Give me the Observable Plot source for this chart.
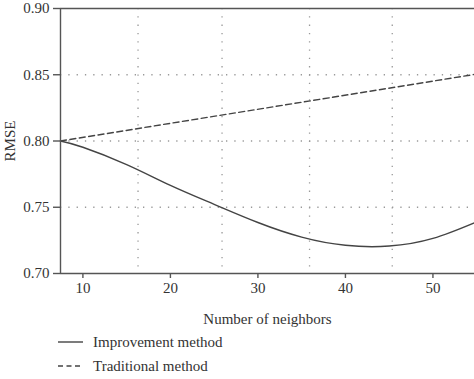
<!DOCTYPE html>
<html>
<head>
<meta charset="utf-8">
<script src="https://cdn.jsdelivr.net/npm/d3@7"></script>
<script src="https://cdn.jsdelivr.net/npm/@observablehq/plot@0.6"></script>
<style>
  body { margin: 0; background: #fff; font-family: "Liberation Serif", "DejaVu Serif", serif; }
  #legend { padding-left: 58px; font-size: 15px; color: #333; }
  .row { height: 24px; display: flex; align-items: center; }
  .row svg { margin-right: 10px; }
</style>
</head>
<body>
<div id="chart"></div>
<div id="legend"></div>
<script>
const neighbors = [7.44, 10, 15, 20, 25, 30, 35, 40, 45, 50, 55];
const improvement = [0.800, 0.7953, 0.7822, 0.7665, 0.7522, 0.7385, 0.7275, 0.7213, 0.7207, 0.7265, 0.739];
const tradNeighbors = [7.44, 55];
const traditional = [0.800, 0.8505];
const xTicks = [10, 20, 30, 40, 50];
const yTicks = [0.70, 0.75, 0.80, 0.85, 0.90];
const xGrid = [16.3, 25.9, 35.9, 45.35];
const yGrid = [0.75, 0.80, 0.85];
const seriesNames = ["Improvement method", "Traditional method"];

const impData = neighbors.map((x, i) => ({x, y: improvement[i]}));
const tradData = tradNeighbors.map((x, i) => ({x, y: traditional[i]}));

const ink = "#555";
const plot = Plot.plot({
  width: 474,
  height: 330,
  marginLeft: 60,
  marginRight: 0,
  marginTop: 8,
  marginBottom: 57,
  style: {fontFamily: "'Liberation Serif', serif", fontSize: "15px", color: "#333", background: "#fff"},
  x: {domain: [7.44, 54.75], label: null},
  y: {domain: [0.70, 0.90], label: null},
  marks: [
    Plot.ruleX(xGrid, {stroke: "#999", strokeWidth: 1.3, strokeDasharray: "1.3,7"}),
    Plot.ruleY(yGrid, {stroke: "#999", strokeWidth: 1.3, strokeDasharray: "1.3,7"}),
    Plot.line(tradData, {x: "x", y: "y", stroke: "#444", strokeWidth: 1.4, strokeDasharray: "6,3.5"}),
    Plot.line(impData, {x: "x", y: "y", stroke: "#444", strokeWidth: 1.4, curve: "natural"}),
    Plot.ruleY([0.90], {stroke: ink, strokeWidth: 1.4}),
    Plot.ruleY([0.70], {stroke: ink, strokeWidth: 1.4}),
    Plot.ruleX([7.44], {stroke: ink, strokeWidth: 1.4}),
    Plot.axisX({ticks: xTicks, tickSize: 5, tickPadding: 4, stroke: ink, strokeWidth: 1.4,
      label: "Number of neighbors", labelAnchor: "center", labelArrow: "none", labelOffset: 50, fontSize: 15}),
    Plot.axisY({ticks: yTicks, tickFormat: d3.format(".2f"), tickSize: 7, tickPadding: 4, stroke: ink, strokeWidth: 1.4,
      label: "RMSE", labelAnchor: "center", labelOffset: 56, labelArrow: "none", fontSize: 15})
  ]
});
document.getElementById("chart").appendChild(plot);

const legend = document.getElementById("legend");
seriesNames.forEach((name, i) => {
  const row = document.createElement("div");
  row.className = "row";
  row.innerHTML = `<svg width="25" height="6"><line x1="0" x2="25" y1="3" y2="3" stroke="#444" stroke-width="1.4" ${i === 1 ? 'stroke-dasharray="5,3.5"' : ''}/></svg><span>${name}</span>`;
  legend.appendChild(row);
});
</script>
</body>
</html>
